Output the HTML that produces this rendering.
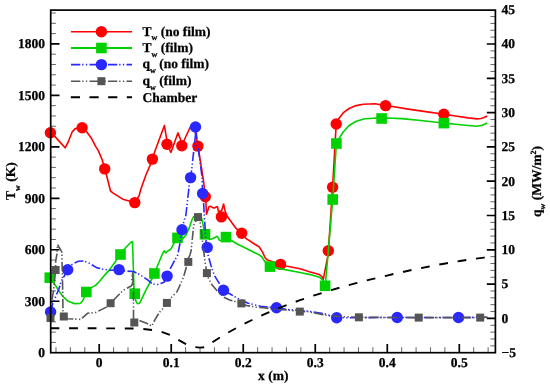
<!DOCTYPE html>
<html><head><meta charset="utf-8"><title>Wall temperature and heat flux</title>
<style>html,body{margin:0;padding:0;background:#fff;}body{width:550px;height:388px;overflow:hidden;}svg{display:block;}text{font-family:'Liberation Serif','Times New Roman',serif;font-weight:bold;fill:#000;stroke:#000;stroke-width:0.25px;text-rendering:geometricPrecision;}</style>
</head><body>
<svg width="550" height="388" viewBox="0 0 550 388">
<rect x="0" y="0" width="550" height="388" fill="#fff"/>
<path d="M50.7,342.41h5.2 M50.7,332.11h5.2 M50.7,321.82h5.2 M50.7,311.53h5.2 M50.7,290.94h5.2 M50.7,280.64h5.2 M50.7,270.35h5.2 M50.7,260.06h5.2 M50.7,239.47h5.2 M50.7,229.18h5.2 M50.7,218.88h5.2 M50.7,208.59h5.2 M50.7,188.00h5.2 M50.7,177.71h5.2 M50.7,167.42h5.2 M50.7,157.12h5.2 M50.7,136.53h5.2 M50.7,126.24h5.2 M50.7,115.95h5.2 M50.7,105.65h5.2 M50.7,85.07h5.2 M50.7,74.77h5.2 M50.7,64.48h5.2 M50.7,54.19h5.2 M50.7,33.60h5.2 M50.7,23.30h5.2 M50.7,13.01h5.2 M495.4,345.84h-5 M495.4,338.98h-5 M495.4,332.12h-5 M495.4,325.26h-5 M495.4,311.54h-5 M495.4,304.68h-5 M495.4,297.82h-5 M495.4,290.96h-5 M495.4,277.24h-5 M495.4,270.38h-5 M495.4,263.52h-5 M495.4,256.66h-5 M495.4,242.94h-5 M495.4,236.08h-5 M495.4,229.22h-5 M495.4,222.36h-5 M495.4,208.64h-5 M495.4,201.78h-5 M495.4,194.92h-5 M495.4,188.06h-5 M495.4,174.34h-5 M495.4,167.48h-5 M495.4,160.62h-5 M495.4,153.76h-5 M495.4,140.04h-5 M495.4,133.18h-5 M495.4,126.32h-5 M495.4,119.46h-5 M495.4,105.74h-5 M495.4,98.88h-5 M495.4,92.02h-5 M495.4,85.16h-5 M495.4,71.44h-5 M495.4,64.58h-5 M495.4,57.72h-5 M495.4,50.86h-5 M495.4,37.14h-5 M495.4,30.28h-5 M495.4,23.42h-5 M495.4,16.56h-5 M55.99,352.7v-5.5 M70.39,352.7v-5.5 M84.80,352.7v-5.5 M113.60,352.7v-5.5 M128.01,352.7v-5.5 M142.41,352.7v-5.5 M156.82,352.7v-5.5 M185.62,352.7v-5.5 M200.03,352.7v-5.5 M214.43,352.7v-5.5 M228.84,352.7v-5.5 M257.64,352.7v-5.5 M272.05,352.7v-5.5 M286.45,352.7v-5.5 M300.86,352.7v-5.5 M329.66,352.7v-5.5 M344.07,352.7v-5.5 M358.47,352.7v-5.5 M372.88,352.7v-5.5 M401.68,352.7v-5.5 M416.09,352.7v-5.5 M430.49,352.7v-5.5 M444.90,352.7v-5.5 M473.70,352.7v-5.5 M488.11,352.7v-5.5" stroke="#666" stroke-width="1" fill="none"/>
<path d="M50.7,301.23h8.8 M50.7,249.76h8.8 M50.7,198.30h8.8 M50.7,146.83h8.8 M50.7,95.36h8.8 M50.7,43.89h8.8 M495.4,318.40h-8.6 M495.4,284.10h-8.6 M495.4,249.80h-8.6 M495.4,215.50h-8.6 M495.4,181.20h-8.6 M495.4,146.90h-8.6 M495.4,112.60h-8.6 M495.4,78.30h-8.6 M495.4,44.00h-8.6 M99.20,352.7v-8.6 M171.22,352.7v-8.6 M243.24,352.7v-8.6 M315.26,352.7v-8.6 M387.28,352.7v-8.6 M459.30,352.7v-8.6" stroke="#000" stroke-width="1.7" fill="none"/>
<polyline points="50.4,132.8 55.0,136.6 65.1,147.8 68.2,142.0 72.1,132.0 75.2,128.6 82.1,127.8 86.8,132.0 91.4,138.2 95.3,145.9 98.3,150.6 102.2,159.8 104.7,168.9 106.6,175.5 110.5,191.0 113.6,193.3 122.8,199.2 128.2,200.7 134.8,202.6 139.2,195.5 140.6,190.0 141.6,187.1 146.0,174.7 150.7,163.9 152.4,159.1 154.7,151.8 164.4,125.5 166.6,138.6 167.0,144.3 170.9,152.5 177.9,132.9 180.5,139.4 181.7,145.6 184.1,140.2 190.3,127.0 194.5,124.0 195.5,133.7 197.0,141.0 197.9,146.1 198.8,151.3 203.4,180.0 205.3,196.7 205.9,201.7 206.5,214.3 209.0,206.7 210.4,206.2 212.6,207.6 214.4,208.0 216.7,206.7 217.6,207.1 218.5,211.6 221.6,210.7 223.6,204.0 225.2,211.6 227.2,216.2 235.9,228.2 241.7,233.3 245.9,238.3 255.2,244.5 259.1,246.8 262.7,252.4 265.1,257.8 267.4,260.1 272.0,261.6 280.5,264.4 285.9,266.0 300.0,268.8 310.3,272.1 319.3,274.6 321.9,276.6 323.2,279.8 325.8,266.3 327.7,256.6 328.3,250.8 329.8,230.0 332.6,187.3 334.8,148.0 336.2,124.0 338.5,119.1 343.4,112.7 349.1,108.5 356.2,105.6 363.2,104.2 375.0,103.8 385.6,105.6 391.0,106.3 408.2,109.1 427.3,111.9 438.7,113.5 443.8,114.3 455.5,116.0 468.2,117.9 477.1,118.9 480.9,118.5 483.5,117.7 487.3,116.0" fill="none" stroke="#ff0000" stroke-width="1.6" stroke-linejoin="round"/>
<g fill="#ff0000"><circle cx="50.4" cy="132.8" r="5.7"/><circle cx="82.1" cy="127.8" r="5.7"/><circle cx="104.7" cy="168.9" r="5.7"/><circle cx="134.8" cy="202.6" r="5.7"/><circle cx="152.4" cy="159.1" r="5.7"/><circle cx="167.0" cy="144.3" r="5.7"/><circle cx="181.8" cy="145.8" r="5.7"/><circle cx="197.9" cy="146.1" r="5.7"/><circle cx="205.3" cy="196.7" r="5.7"/><circle cx="221.4" cy="216.9" r="5.7"/><circle cx="241.7" cy="233.3" r="5.7"/><circle cx="280.5" cy="264.4" r="5.7"/><circle cx="328.3" cy="250.8" r="5.7"/><circle cx="332.6" cy="187.3" r="5.7"/><circle cx="336.2" cy="124.0" r="5.7"/><circle cx="385.6" cy="105.6" r="5.7"/><circle cx="443.8" cy="114.3" r="5.7"/></g>
<polyline points="49.8,277.7 54.5,284.0 59.5,291.8 63.1,296.7 67.7,301.0 74.0,303.6 80.0,303.4 82.2,301.5 84.0,297.8 86.3,292.0 91.3,287.6 95.5,285.4 99.6,281.3 104.7,275.1 109.9,269.4 113.5,264.3 117.1,259.1 120.5,254.5 125.5,247.7 130.9,242.3 132.5,241.5 133.2,263.2 134.0,288.0 134.7,293.7 135.8,300.9 137.4,303.7 139.7,303.2 145.9,290.1 152.1,278.5 154.4,273.5 157.1,266.8 162.6,253.5 164.2,250.8 165.8,252.9 167.4,251.2 169.9,249.8 171.4,248.2 174.0,243.1 177.5,237.9 182.8,238.7 185.9,235.1 189.0,228.4 192.1,219.5 193.5,216.8 197.5,215.5 201.5,218.0 202.7,222.9 204.0,229.3 205.0,234.3 209.7,239.5 212.9,238.5 215.5,237.3 217.1,236.3 218.4,237.9 219.3,240.2 221.3,240.5 226.0,237.1 231.0,240.2 238.2,244.5 245.9,248.3 253.7,252.2 258.9,254.7 262.0,257.0 264.3,260.9 270.0,266.6 279.7,268.6 300.0,272.5 310.3,274.6 319.3,277.2 322.6,279.8 325.1,285.8 325.8,279.8 332.7,199.5 336.4,143.5 339.2,138.2 343.4,131.8 349.1,125.5 356.2,121.2 364.7,118.8 370.0,118.5 376.4,118.0 381.6,118.5 387.2,118.0 401.8,118.6 420.9,120.5 438.7,122.5 443.9,123.1 455.5,124.3 468.2,125.5 477.1,126.2 482.2,125.3 487.3,123.0" fill="none" stroke="#00d200" stroke-width="1.6" stroke-linejoin="round"/>
<g fill="#00d200"><rect x="44.5" y="272.4" width="10.6" height="10.6"/><rect x="81.0" y="286.7" width="10.6" height="10.6"/><rect x="115.2" y="249.2" width="10.6" height="10.6"/><rect x="129.4" y="288.4" width="10.6" height="10.6"/><rect x="149.1" y="268.2" width="10.6" height="10.6"/><rect x="172.2" y="232.6" width="10.6" height="10.6"/><rect x="199.7" y="229.0" width="10.6" height="10.6"/><rect x="220.7" y="231.8" width="10.6" height="10.6"/><rect x="264.7" y="261.3" width="10.6" height="10.6"/><rect x="319.8" y="280.5" width="10.6" height="10.6"/><rect x="327.4" y="194.2" width="10.6" height="10.6"/><rect x="331.1" y="138.2" width="10.6" height="10.6"/><rect x="376.3" y="113.2" width="10.6" height="10.6"/><rect x="438.6" y="117.8" width="10.6" height="10.6"/></g>
<polyline points="50.6,312.0 52.9,303.0 58.7,289.5 61.2,281.4 64.3,276.0 67.7,269.7 72.0,264.4 78.2,261.3 83.6,261.0 89.3,263.2 96.5,267.6 103.2,269.3 112.0,270.3 119.0,269.6 124.7,270.9 133.5,271.5 139.0,274.2 143.5,277.0 148.0,280.2 152.6,284.0 157.7,284.5 164.2,282.2 167.1,276.1 170.0,269.3 175.1,259.7 177.7,255.0 180.3,241.8 182.0,229.8 183.4,223.2 185.9,215.0 189.2,185.5 190.6,177.6 191.8,168.7 195.6,133.9 195.5,127.0 196.3,133.9 202.0,176.4 202.6,193.5 203.4,199.0 204.0,210.0 205.9,241.0 207.2,247.4 207.7,253.9 211.0,265.5 214.2,275.1 217.4,280.3 223.5,290.3 230.9,294.5 237.4,298.3 248.2,303.2 260.6,306.3 276.5,307.8 288.0,309.6 306.0,311.0 320.0,313.0 326.0,314.0 331.0,316.0 336.7,317.8 360.0,317.6 397.2,317.5 458.5,317.5 487.4,317.2" fill="none" stroke="#2828ff" stroke-width="1.6" stroke-dasharray="9.3 1.9 1.3 2.4 1.3 2.3" stroke-linejoin="round"/>
<g fill="#2828ff"><circle cx="50.6" cy="312.0" r="5.7"/><circle cx="67.7" cy="269.7" r="5.7"/><circle cx="119.0" cy="269.6" r="5.7"/><circle cx="167.1" cy="276.1" r="5.7"/><circle cx="182.0" cy="229.8" r="5.7"/><circle cx="190.6" cy="177.6" r="5.7"/><circle cx="195.5" cy="127.0" r="5.7"/><circle cx="202.6" cy="193.5" r="5.7"/><circle cx="207.2" cy="247.4" r="5.7"/><circle cx="223.5" cy="290.3" r="5.7"/><circle cx="276.5" cy="307.8" r="5.7"/><circle cx="336.7" cy="317.8" r="5.7"/><circle cx="397.2" cy="317.5" r="5.7"/><circle cx="458.5" cy="317.5" r="5.7"/></g>
<polyline points="50.5,318.0 52.3,297.9 53.5,290.8 55.6,270.0 55.7,261.2 57.1,253.0 57.5,244.5 60.5,249.5 61.8,252.0 62.5,280.0 63.0,311.0 63.8,316.5 67.7,318.7 80.9,319.4 82.4,317.9 87.8,313.2 95.6,312.5 101.8,309.4 106.4,307.1 110.6,303.2 118.8,294.7 123.6,290.0 131.3,286.0 132.6,283.3 131.7,278.8 132.6,272.9 133.5,290.0 133.5,317.9 134.3,322.5 138.9,320.2 142.0,321.5 146.6,323.3 151.8,326.2 153.6,322.1 155.3,319.2 159.4,312.3 162.8,308.8 166.9,302.9 171.5,297.2 176.8,292.0 179.0,287.4 183.5,277.1 186.1,268.0 188.3,261.9 188.7,257.7 190.0,255.0 191.1,250.6 193.7,225.3 195.6,221.6 198.0,217.1 200.1,221.6 203.9,252.6 205.2,262.9 206.9,273.1 208.6,278.5 212.1,284.9 216.0,289.5 219.8,293.4 223.7,297.3 229.6,300.0 241.4,303.4 246.6,305.5 255.9,307.1 263.7,307.8 276.0,309.4 288.0,310.0 299.8,311.6 308.0,311.6 330.0,316.0 358.9,317.3 418.7,317.6 480.2,317.6 487.4,317.2" fill="none" stroke="#555555" stroke-width="1.6" stroke-dasharray="9.3 1.9 1.3 2.4 1.3 2.3" stroke-linejoin="round"/>
<g fill="#555555"><rect x="46.5" y="314.0" width="8.0" height="8.0"/><rect x="51.6" y="266.0" width="8.0" height="8.0"/><rect x="59.8" y="312.5" width="8.0" height="8.0"/><rect x="106.6" y="299.2" width="8.0" height="8.0"/><rect x="130.3" y="318.5" width="8.0" height="8.0"/><rect x="162.9" y="298.9" width="8.0" height="8.0"/><rect x="184.3" y="257.9" width="8.0" height="8.0"/><rect x="194.0" y="213.1" width="8.0" height="8.0"/><rect x="202.9" y="269.1" width="8.0" height="8.0"/><rect x="237.4" y="299.4" width="8.0" height="8.0"/><rect x="295.8" y="307.6" width="8.0" height="8.0"/><rect x="354.9" y="313.3" width="8.0" height="8.0"/><rect x="414.7" y="313.6" width="8.0" height="8.0"/><rect x="476.2" y="313.6" width="8.0" height="8.0"/></g>
<polyline points="50.9,328.2 100.0,328.3 140.0,328.6 152.7,330.1 161.5,331.8 170.2,335.1 177.8,339.5 185.5,343.8 195.3,347.1 200.0,347.6 204.0,347.3 212.0,342.5 220.0,337.4 228.0,332.6 236.0,328.2 244.0,323.9 252.0,320.0 260.0,316.2 268.0,312.7 276.0,309.3 284.0,306.1 292.0,303.1 300.0,300.2 308.0,297.5 316.0,294.8 324.0,292.3 332.0,289.9 340.0,287.6 348.0,285.4 356.0,283.2 364.0,281.1 372.0,279.1 380.0,277.2 388.0,275.3 396.0,273.4 404.0,271.7 412.0,269.9 420.0,268.3 428.0,266.7 436.0,265.1 444.0,263.7 452.0,262.3 460.0,261.0 468.0,259.8 476.0,258.6 484.0,257.6 487.0,257.2" fill="none" stroke="#000" stroke-width="1.9" stroke-dasharray="8.8 9.76" stroke-dashoffset="0.35"/>
<rect x="50.7" y="10.1" width="444.7" height="342.6" fill="none" stroke="#000" stroke-width="1.7"/>
<line x1="71" y1="31.7" x2="132" y2="31.7" stroke="#ff0000" stroke-width="1.6"/>
<circle cx="101.4" cy="31.7" r="5.7" fill="#ff0000"/>
<line x1="71" y1="48.0" x2="132" y2="48.0" stroke="#00d200" stroke-width="1.8"/>
<rect x="96.1" y="42.7" width="10.6" height="10.6" fill="#00d200"/>
<line x1="71" y1="64.6" x2="132" y2="64.6" stroke="#2828ff" stroke-width="1.6" stroke-dasharray="9.3 1.9 1.3 2.4 1.3 2.3"/>
<circle cx="101.4" cy="64.6" r="5.7" fill="#2828ff"/>
<line x1="71" y1="81.2" x2="132" y2="81.2" stroke="#555555" stroke-width="1.6" stroke-dasharray="9.3 1.9 1.3 2.4 1.3 2.3"/>
<rect x="97.4" y="77.2" width="8.0" height="8.0" fill="#555555"/>
<line x1="70.8" y1="97.3" x2="132" y2="97.3" stroke="#000" stroke-width="1.9" stroke-dasharray="9.2 9.47"/>
<text x="142.50" y="35.60" font-size="13.5">T<tspan font-size="8" dy="4.40">w</tspan><tspan dy="-4.40"> (no film)</tspan></text>
<text x="142.50" y="52.20" font-size="13.5">T<tspan font-size="8" dy="4.40">w</tspan><tspan dy="-4.40"> (film)</tspan></text>
<text x="142.50" y="68.40" font-size="13.5">q<tspan font-size="8" dy="4.40">w</tspan><tspan dy="-4.40"> (no film)</tspan></text>
<text x="142.50" y="85.10" font-size="13.5">q<tspan font-size="8" dy="4.40">w</tspan><tspan dy="-4.40"> (film)</tspan></text>
<text x="142.50" y="101.60" font-size="13.5">Chamber</text>
<text x="44.90" y="357.00" font-size="13.5" text-anchor="end">0</text>
<text x="44.90" y="305.53" font-size="13.5" text-anchor="end">300</text>
<text x="44.90" y="254.06" font-size="13.5" text-anchor="end">600</text>
<text x="44.90" y="202.60" font-size="13.5" text-anchor="end">900</text>
<text x="44.90" y="151.13" font-size="13.5" text-anchor="end">1200</text>
<text x="44.90" y="99.66" font-size="13.5" text-anchor="end">1500</text>
<text x="44.90" y="48.19" font-size="13.5" text-anchor="end">1800</text>
<text x="501.60" y="357.00" font-size="13.5">−5</text>
<text x="501.60" y="322.70" font-size="13.5">0</text>
<text x="501.60" y="288.40" font-size="13.5">5</text>
<text x="501.60" y="254.10" font-size="13.5">10</text>
<text x="501.60" y="219.80" font-size="13.5">15</text>
<text x="501.60" y="185.50" font-size="13.5">20</text>
<text x="501.60" y="151.20" font-size="13.5">25</text>
<text x="501.60" y="116.90" font-size="13.5">30</text>
<text x="501.60" y="82.60" font-size="13.5">35</text>
<text x="501.60" y="48.30" font-size="13.5">40</text>
<text x="501.60" y="14.00" font-size="13.5">45</text>
<text x="99.20" y="366.80" font-size="13.5" text-anchor="middle">0</text>
<text x="171.22" y="366.80" font-size="13.5" text-anchor="middle">0.1</text>
<text x="243.24" y="366.80" font-size="13.5" text-anchor="middle">0.2</text>
<text x="315.26" y="366.80" font-size="13.5" text-anchor="middle">0.3</text>
<text x="387.28" y="366.80" font-size="13.5" text-anchor="middle">0.4</text>
<text x="459.30" y="366.80" font-size="13.5" text-anchor="middle">0.5</text>
<text x="273.30" y="380.30" font-size="13.5" text-anchor="middle">x (m)</text>
<text transform="translate(15.40,181.20) rotate(-90)" font-size="13.5" text-anchor="middle">T<tspan font-size="8" dy="4.40">w</tspan><tspan dy="-4.40"> (K)</tspan></text>
<text transform="translate(541.00,181.50) rotate(-90)" font-size="13.5" text-anchor="middle">q<tspan font-size="8" dy="4.40">w</tspan><tspan dy="-4.40"> (MW/m</tspan><tspan font-size="8" dy="-5.30">2</tspan><tspan dy="5.30">)</tspan></text>
</svg>
</body></html>
